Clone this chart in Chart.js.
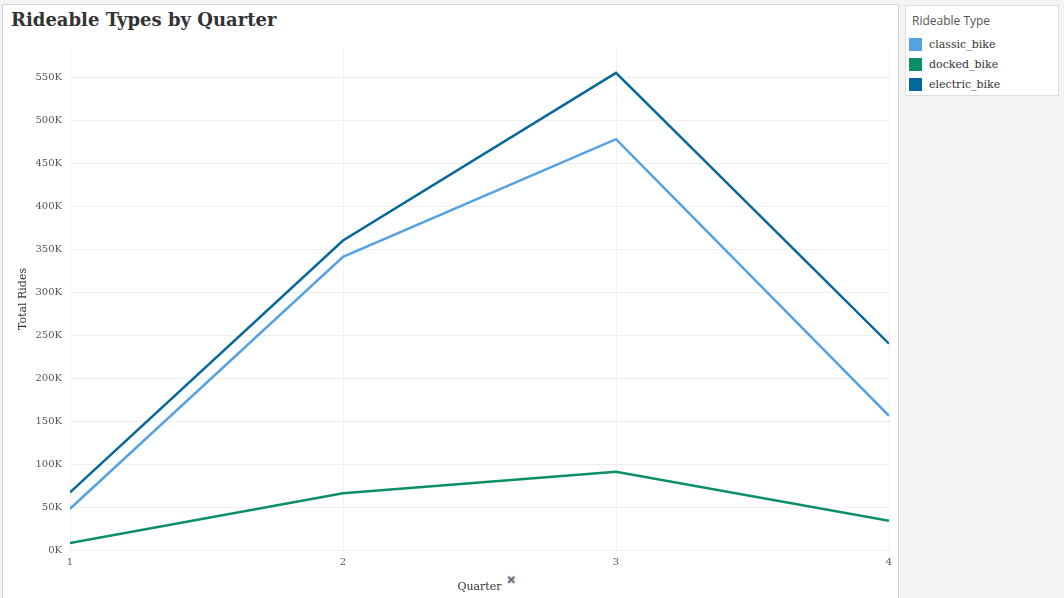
<!DOCTYPE html>
<html><head><meta charset="utf-8">
<script src="https://cdn.jsdelivr.net/npm/chart.js@4"></script>
<style>
body{margin:0;width:1064px;height:598px;background:#f3f3f3;position:relative;overflow:hidden;font-family:"DejaVu Serif",serif}
#panel{position:absolute;left:2px;top:4px;width:895px;height:600px;background:#fff;border:1px solid #d4d4d4}
#title{position:absolute;left:11px;top:9px;font-size:18px;font-weight:bold;color:#333}
#legend{position:absolute;left:905px;top:5px;width:152px;height:89px;background:#fff;border:1px solid #ddd;font-size:11px;color:#333}
#legend .h{font-family:"Open Sans",sans-serif;font-size:12px;color:#555;padding:6px 0 0 6px;height:22px}
#legend .r{height:20px;display:flex;align-items:center;padding-left:3px}
#legend .s{width:13px;height:13px;margin-right:7px}
#pin{position:absolute;left:506px;top:573px;font-size:12px;color:#6b7280;transform:rotate(45deg)}
canvas{position:absolute;left:0;top:0}
</style></head><body>
<div id="panel"></div>
<div id="title">Rideable Types by Quarter</div>
<div id="legend"><div class="h">Rideable Type</div></div>
<canvas id="c" width="1064" height="598"></canvas>
<div id="pin">✚</div>
<script>
const quarters=[1,2,3,4];
const seriesNames=["classic_bike","docked_bike","electric_bike"];
const colors=["#55a1e3","#0a8f6a","#05689a"];
const classic=[48000,341000,478000,156000];
const docked=[8000,66000,91000,34000];
const electric=[67000,360000,555000,240000];
const yTicks=[0,50000,100000,150000,200000,250000,300000,350000,400000,450000,500000,550000];
const values=[classic,docked,electric];
const lg=document.getElementById('legend');
seriesNames.forEach((n,i)=>{const d=document.createElement('div');d.className='r';d.innerHTML='<span class="s" style="background:'+colors[i]+'"></span>'+n;lg.appendChild(d);});
const font={family:"DejaVu Serif",size:10};
new Chart(document.getElementById('c'),{
type:'line',
data:{datasets:[2,0,1].map(i=>({label:seriesNames[i],data:quarters.map((q,k)=>({x:q,y:values[i][k]})),borderColor:colors[i],borderWidth:2.5,pointRadius:0,tension:0,fill:false}))},
options:{responsive:false,animation:false,
layout:{padding:{left:13,right:175,top:48,bottom:0}},
plugins:{legend:{display:false},tooltip:{enabled:false}},
scales:{
x:{type:'linear',min:1,max:4,afterFit:s=>{s.height=48},
 afterBuildTicks:s=>{s.ticks=quarters.map(v=>({value:v}))},
 ticks:{color:'#555',font,padding:6},
 grid:{color:'#efefef',drawTicks:false},border:{display:false},
 title:{display:true,text:'Quarter',color:'#333',font:{family:"DejaVu Serif",size:11},padding:{top:0}}},
y:{min:0,max:584000,afterFit:s=>{s.width=57},
 afterBuildTicks:s=>{s.ticks=yTicks.map(v=>({value:v}))},
 ticks:{autoSkip:false,color:'#555',font,padding:8,callback:v=>(v/1000)+'K'},
 grid:{color:'#efefef',drawTicks:false},border:{display:false},
 title:{display:true,text:'Total Rides',color:'#333',font:{family:"DejaVu Serif",size:11},padding:{bottom:4}}}
}}});
</script></body></html>
